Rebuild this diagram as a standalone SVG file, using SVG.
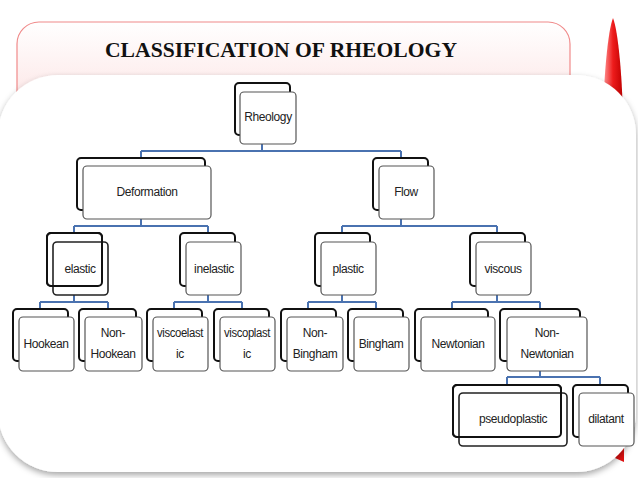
<svg xmlns="http://www.w3.org/2000/svg" width="638" height="478" viewBox="0 0 638 478">
<defs>
<linearGradient id="pink" x1="0" y1="0" x2="0" y2="1"><stop offset="0" stop-color="#ffffff"/><stop offset="1" stop-color="#fbd4d4"/></linearGradient>
<linearGradient id="red" x1="0" y1="0" x2="1" y2="0"><stop offset="0" stop-color="#ff9a9a"/><stop offset="0.5" stop-color="#ee1c1c"/><stop offset="1" stop-color="#c00000"/></linearGradient>
<filter id="sh" x="-5%" y="-5%" width="110%" height="115%"><feDropShadow dx="0" dy="3" stdDeviation="3" flood-color="#000" flood-opacity="0.35"/></filter>
</defs>
<style>
.b{fill:#fff;stroke:#111;stroke-width:2}
.f{fill:#fff;stroke:#555;stroke-width:1.2}
.t{font-family:"Liberation Sans",Arial,sans-serif;font-size:12px;letter-spacing:-0.4px;fill:#222;text-anchor:middle}
.c{fill:none;stroke:#4a72b0;stroke-width:2}
</style>
<rect width="638" height="478" fill="#fff"/>
<path d="M603,130 C603,80 608,30 613,18 C618,30 623,80 623,130 Z" fill="url(#red)"/>
<path d="M615,458 L624,440 L624,462 Z" fill="#e01010"/>
<rect x="17" y="22" width="553" height="140" rx="22" fill="url(#pink)" stroke="#f08a8a" stroke-width="1.2"/>
<text x="281" y="57" font-family="Liberation Serif,serif" font-weight="bold" font-size="22" text-anchor="middle" textLength="352" lengthAdjust="spacingAndGlyphs" fill="#111">CLASSIFICATION OF RHEOLOGY</text>
<rect x="-2" y="75" width="638" height="397" rx="60" fill="#fff" filter="url(#sh)"/>
<g id="connectors" class="c">
<path d="M262,144V151M141,151H401M141,151V158M401,151V158"/>
<path d="M141,219V226M74,226H208M74,226V233M208,226V233"/>
<path d="M401,219V226M342,226H497M342,226V233M497,226V233"/>
<path d="M74,295V302M40,302H108M40,302V309M108,302V309"/>
<path d="M208,295V302M174,302H242M174,302V309M242,302V309"/>
<path d="M342,295V302M308,302H376M308,302V309M376,302V309"/>
<path d="M497,295V302M452,302H540M452,302V309M540,302V309"/>
<path d="M540,371V377M507,377H600M507,377V385M600,377V385"/>
</g>
<g id="rheology"><rect class="b" x="235" y="83" width="55" height="52" rx="4"/><rect class="f" x="240" y="92" width="56" height="52" rx="4"/><text class="t" x="268" y="121">Rheology</text></g>
<g id="deformation"><rect class="b" x="77" y="158" width="128" height="52" rx="4"/><rect class="f" x="83" y="166" width="128" height="53" rx="4"/><text class="t" x="147" y="196">Deformation</text></g>
<g id="flow"><rect class="b" x="373" y="158" width="55" height="52" rx="4"/><rect class="f" x="379" y="166" width="55" height="53" rx="4"/><text class="t" x="406" y="196">Flow</text></g>
<g id="elastic"><rect class="b" x="47" y="233" width="55" height="53" rx="4"/><rect class="f" x="53" y="242" width="55" height="53" rx="4" style="stroke:#222;stroke-width:1.6"/><rect x="47" y="233" width="55" height="53" rx="4" fill="none" stroke="#111" stroke-width="2"/><text class="t" x="80" y="273">elastic</text></g>
<g id="inelastic"><rect class="b" x="180" y="233" width="55" height="53" rx="4"/><rect class="f" x="186" y="242" width="55" height="53" rx="4"/><text class="t" x="214" y="273">inelastic</text></g>
<g id="plastic"><rect class="b" x="315" y="233" width="55" height="53" rx="4"/><rect class="f" x="321" y="242" width="55" height="53" rx="4"/><text class="t" x="348" y="273">plastic</text></g>
<g id="viscous"><rect class="b" x="470" y="233" width="55" height="53" rx="4"/><rect class="f" x="476" y="242" width="55" height="53" rx="4"/><text class="t" x="503" y="273">viscous</text></g>
<g id="hookean"><rect class="b" x="13" y="309" width="55" height="52" rx="4"/><rect class="f" x="19" y="317" width="55" height="54" rx="4"/><text class="t" x="46" y="348">Hookean</text></g>
<g id="nonhookean"><rect class="b" x="79" y="309" width="57" height="52" rx="4"/><rect class="f" x="85" y="317" width="57" height="54" rx="4"/><text class="t" x="113" y="337">Non-</text><text class="t" x="113" y="358">Hookean</text></g>
<g id="viscoelastic"><rect class="b" x="147" y="309" width="55" height="52" rx="4"/><rect class="f" x="153" y="317" width="55" height="54" rx="4"/><text class="t" x="180" y="337" textLength="46" lengthAdjust="spacingAndGlyphs">viscoelast</text><text class="t" x="180" y="358">ic</text></g>
<g id="viscoplastic"><rect class="b" x="214" y="309" width="55" height="52" rx="4"/><rect class="f" x="220" y="317" width="55" height="54" rx="4"/><text class="t" x="247" y="337" textLength="46" lengthAdjust="spacingAndGlyphs">viscoplast</text><text class="t" x="247" y="358">ic</text></g>
<g id="nonbingham"><rect class="b" x="281" y="309" width="55" height="52" rx="4"/><rect class="f" x="287" y="317" width="56" height="54" rx="4"/><text class="t" x="315" y="337">Non-</text><text class="t" x="315" y="358">Bingham</text></g>
<g id="bingham"><rect class="b" x="348" y="309" width="55" height="52" rx="4"/><rect class="f" x="354" y="317" width="55" height="54" rx="4"/><text class="t" x="381" y="348">Bingham</text></g>
<g id="newtonian"><rect class="b" x="415" y="309" width="73" height="52" rx="4"/><rect class="f" x="421" y="317" width="74" height="54" rx="4"/><text class="t" x="458" y="348">Newtonian</text></g>
<g id="nonnewtonian"><rect class="b" x="500" y="309" width="80" height="52" rx="4"/><rect class="f" x="507" y="317" width="80" height="54" rx="4"/><text class="t" x="547" y="337">Non-</text><text class="t" x="547" y="358">Newtonian</text></g>
<g id="pseudoplastic"><rect class="b" x="453" y="385" width="108" height="52" rx="4"/><rect class="f" x="459" y="393" width="108" height="53" rx="4" style="stroke:#222;stroke-width:1.6"/><rect x="453" y="385" width="108" height="52" rx="4" fill="none" stroke="#111" stroke-width="2"/><text class="t" x="513" y="423">pseudoplastic</text></g>
<g id="dilatant"><rect class="b" x="573" y="385" width="55" height="52" rx="4"/><rect class="f" x="579" y="393" width="55" height="53" rx="4"/><text class="t" x="606" y="423">dilatant</text></g>
</svg>
